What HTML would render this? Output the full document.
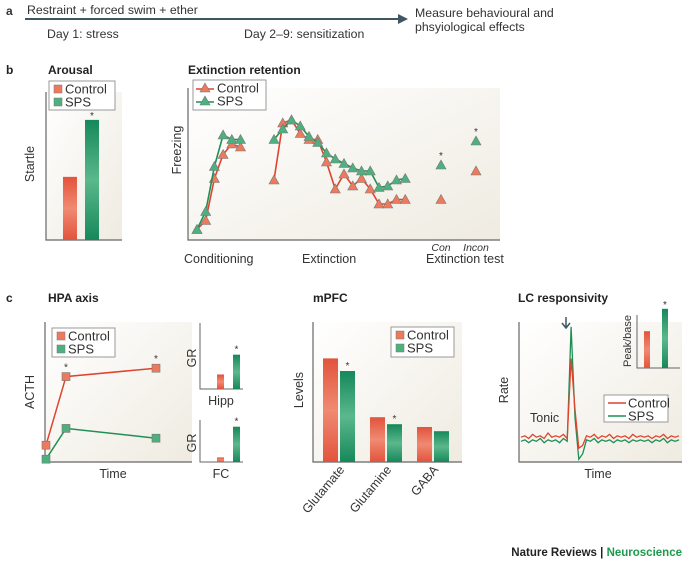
<!DOCTYPE html>
<html><head><meta charset="utf-8">
<style>
html,body{margin:0;padding:0;background:#fff;}
svg{display:block;font-family:"Liberation Sans",sans-serif;}
</style></head>
<body>
<svg id="fig" width="685" height="567" viewBox="0 0 685 567" xmlns="http://www.w3.org/2000/svg">
<defs>
<linearGradient id="bg" x1="0" y1="0" x2="1" y2="1"><stop offset="0" stop-color="#ffffff"/><stop offset="1" stop-color="#efebe1"/></linearGradient>
<linearGradient id="gr" x1="0" y1="0" x2="0" y2="1"><stop offset="0" stop-color="#e2533c"/><stop offset="0.5" stop-color="#f08a72"/><stop offset="1" stop-color="#e2533c"/></linearGradient>
<linearGradient id="gg" x1="0" y1="0" x2="0" y2="1"><stop offset="0" stop-color="#16885a"/><stop offset="0.5" stop-color="#5ab88c"/><stop offset="1" stop-color="#16885a"/></linearGradient>
</defs>

<g font-size="12.3" fill="#333">
<text x="6" y="15" font-weight="bold" font-size="12">a</text>
<text x="27" y="14">Restraint + forced swim + ether</text>
<line x1="25" y1="19" x2="400" y2="19" stroke="#3f5663" stroke-width="2"/>
<polygon points="398,14 408,19 398,24" fill="#3f5663"/>
<text x="47" y="38">Day 1: stress</text>
<text x="244" y="38">Day 2–9: sensitization</text>
<text x="415" y="17">Measure behavioural and</text>
<text x="415" y="31">phsyiological effects</text>
</g>

<text x="6" y="74" font-weight="bold" font-size="12" fill="#222">b</text>
<text x="6" y="302" font-weight="bold" font-size="12" fill="#222">c</text>

<g id="arousal"></g>
<g id="ext"></g>
<g id="hpa"></g>
<g id="mpfc"></g>
<g id="lc"></g>

<text x="682" y="556" text-anchor="end" font-size="11.5" font-weight="bold" fill="#222">Nature Reviews | <tspan fill="#1e9a4e">Neuroscience</tspan></text>
</svg>
<script>
// ---------- data ----------
const arousalGroups = ["Control","SPS"];
const arousalValues = [41, 78];

const condControl = [7, 13, 41, 57, 64, 62];
const condSPS = [7, 19, 49, 70, 67, 67];
const extControl = [40, 78, 80, 71, 67, 67, 52, 34, 44, 36, 41, 34, 24, 24, 27, 27];
const extSPS = [67, 74, 80, 76, 69, 65, 58, 54, 51, 48, 46, 46, 35, 36, 40, 41];
const testLabels = ["Con","Incon"];
const testControl = [27, 46];
const testSPS = [50, 66];

const hpaTimes = [0, 1, 5.5];
const hpaControl = [12, 61, 67];
const hpaSPS = [2, 24, 17];
const hippGR = [22, 52];
const fcGR = [11, 84];

const mpfcCats = ["Glutamate","Glutamine","GABA"];
const mpfcControl = [74, 32, 25];
const mpfcSPS = [65, 27, 22];

const lcPeak = [46, 74];
const lcControl = [18,19,17,20,18,19,17,21,18,19,18,20,17,75,38,10,12,19,18,20,17,19,18,20,17,19,18,19,17,20,18,19,18,19,17,19,18,20,17,19,18,19];
const lcSPS = [15,16,14,16,15,17,14,16,15,16,14,17,15,98,32,2,6,16,15,17,14,16,15,16,14,16,15,16,14,16,15,16,15,16,14,16,15,17,14,16,15,16];

// ---------- helpers ----------
const NS = "http://www.w3.org/2000/svg";
function mk(parent, tag, attrs, txt){
  const e = document.createElementNS(NS, tag);
  for (const k in attrs) e.setAttribute(k, attrs[k]);
  if (txt !== undefined) e.textContent = txt;
  parent.appendChild(e);
  return e;
}
const RED = "#e0442e", GREEN = "#1e8f55", MRED = "#ee7a5e", MGREEN = "#4fb07f";
function axes(g, x0, yTop, yBot, xRight){
  const bgr = mk(g, "rect", {x:x0, y:yTop, width:xRight-x0, height:yBot-yTop, fill:"url(#bg)"});
  
  
  const ax = mk(g, "path", {d:`M${x0},${yTop} L${x0},${yBot} L${xRight},${yBot}`, fill:"none", stroke:"#666", "stroke-width":1.2});
  
  
}
function star(g, x, y){
  const s = mk(g, "text", {x:x, y:y, "text-anchor":"middle", "font-size":10, fill:"#333"}, "*");
  
  
}
function tri(g, x, y, fill){
  return mk(g, "polygon", {points:`${x},${y-5} ${x+5},${y+4} ${x-5},${y+4}`, fill:fill, stroke:"#777", "stroke-width":0.6});
}
function rotText(g, x, y, txt, size, name){
  const t = mk(g, "text", {x:x, y:y, transform:`rotate(-90 ${x} ${y})`, "text-anchor":"middle", "font-size":size||12, fill:"#333"}, txt);
  
  
}
function label(g, x, y, txt, opts, name){
  const a = Object.assign({x:x, y:y, "font-size":12.5, fill:"#333"}, opts||{});
  const t = mk(g, "text", a, txt);
  
  
  return t;
}
function legendBox(g, x, y, w, h, kind, names, colors, mcolors){
  const b = mk(g, "rect", {x:x, y:y, width:w, height:h, fill:"#fff", stroke:"#999", "stroke-width":1});
  
  
  names.forEach((n, i) => {
    const cy = y + 8 + i*13;
    if (kind === "sq"){
      const r = mk(g, "rect", {x:x+5, y:cy-4, width:8, height:8, fill:mcolors[i], stroke:"#777","stroke-width":0.5});
      
      
    } else if (kind === "tri"){
      const l = mk(g, "line", {x1:x+3, y1:cy+1, x2:x+21, y2:cy+1, stroke:colors[i], "stroke-width":1.5});
      
      
      const t = tri(g, x+12, cy, mcolors[i]);
      
      
    } else {
      const l = mk(g, "line", {x1:x+4, y1:cy, x2:x+22, y2:cy, stroke:colors[i], "stroke-width":1.5});
      
      
    }
    const tx = kind === "sq" ? x+16 : x+24;
    label(g, tx, cy+4.5, n, {"font-size":13}, 'legend-entry-' + n.toLowerCase());
  });
}

// ---------- Arousal ----------
(function(){
  const g = document.getElementById("arousal");
  label(g, 48, 74, "Arousal", {"font-weight":"bold","font-size":12,fill:"#222"}, 'arousal-title');
  axes(g, 46, 92, 240, 122);
  const y = v => 240 - v*1.54;
  const xs = [63, 85];
  arousalValues.forEach((v, i) => {
    const r = mk(g, "rect", {x:xs[i], y:y(v), width:14, height:240-y(v), fill:i?"url(#gg)":"url(#gr)"});
    
    
  });
  star(g, 92, y(arousalValues[1]) - 1);
  legendBox(g, 49, 81, 66, 29, "sq", arousalGroups, [RED,GREEN], [MRED,MGREEN]);
  rotText(g, 34, 164, "Startle", 12.5, 'startle-axis-title');
})();

// ---------- Extinction ----------
(function(){
  const g = document.getElementById("ext");
  label(g, 188, 74, "Extinction retention", {"font-weight":"bold","font-size":12,fill:"#222"}, 'extinction-title');
  axes(g, 188, 88, 240, 500);
  const y = v => 240 - v*1.5;
  const xc = i => 197 + i*8.7;
  const xe = i => 274 + i*8.75;
  const xt = [441, 476];
  function series(vals, xf, color, mcolor, name){
    const d = vals.map((v,i) => (i?"L":"M") + xf(i) + "," + y(v)).join(" ");
    const p = mk(g, "path", {d:d, fill:"none", stroke:color, "stroke-width":1.6});
    
    
    vals.forEach((v,i) => {
      const t = tri(g, xf(i), y(v), mcolor);
      
      
    });
  }
  series(condControl, xc, RED, MRED, 'conditioning-control');
  series(condSPS, xc, GREEN, MGREEN, 'conditioning-sps');
  series(extControl, xe, RED, MRED, 'extinction-control');
  series(extSPS, xe, GREEN, MGREEN, 'extinction-sps');
  testLabels.forEach((l, i) => {
    const a = tri(g, xt[i], y(testControl[i]), MRED);
    
    
    const b = tri(g, xt[i], y(testSPS[i]), MGREEN);
    
    
    star(g, xt[i], y(testSPS[i]) - 6);
    label(g, xt[i], 251, l, {"font-size":10.5,"font-style":"italic","text-anchor":"middle"}, 'test-label-' + l.toLowerCase());
  });
  legendBox(g, 193, 80, 73, 30, "tri", ["Control","SPS"], [RED,GREEN], [MRED,MGREEN]);
  label(g, 184, 263, "Conditioning", {}, 'conditioning-label');
  label(g, 302, 263, "Extinction", {}, 'extinction-label');
  label(g, 426, 263, "Extinction test", {}, 'extinction-test-label');
  rotText(g, 181, 150, "Freezing", 12.5, 'freezing-axis-title');
})();

// ---------- HPA ----------
(function(){
  const g = document.getElementById("hpa");
  label(g, 48, 302, "HPA axis", {"font-weight":"bold","font-size":12,fill:"#222"}, 'hpa-title');
  axes(g, 45, 322, 462, 192);
  const y = v => 462 - v*1.4;
  const x = t => 46 + t*20;
  function series(vals, color, mcolor, name){
    const d = vals.map((v,i) => (i?"L":"M") + x(hpaTimes[i]) + "," + y(v)).join(" ");
    const p = mk(g, "path", {d:d, fill:"none", stroke:color, "stroke-width":1.5});
    
    
    vals.forEach((v,i) => {
      const r = mk(g, "rect", {x:x(hpaTimes[i])-4, y:y(v)-4, width:8, height:8, fill:mcolor, stroke:"#777","stroke-width":0.6});
      
      
    });
  }
  series(hpaControl, RED, MRED, 'acth-control');
  series(hpaSPS, GREEN, MGREEN, 'acth-sps');
  star(g, x(hpaTimes[1]), y(hpaControl[1]) - 6);
  star(g, x(hpaTimes[2]), y(hpaControl[2]) - 6);
  legendBox(g, 52, 328, 63, 29, "sq", ["Control","SPS"], [RED,GREEN], [MRED,MGREEN]);
  label(g, 113, 478, "Time", {"text-anchor":"middle"}, 'hpa-x-axis-title');
  rotText(g, 34, 392, "ACTH", 12.5, 'acth-axis-title');
  function inset(vals, y0, y1, name, lab, labY){
    const ax = mk(g, "path", {d:`M200,${y0} L200,${y1} L243,${y1}`, fill:"none", stroke:"#666","stroke-width":1});
    
    
    const h = y1 - y0;
    const yy = v => y1 - v/100*h;
    [217, 233].forEach((bx, i) => {
      const r = mk(g, "rect", {x:bx, y:yy(vals[i]), width:7, height:y1-yy(vals[i]), fill:i?"url(#gg)":"url(#gr)"});
      
      
    });
    star(g, 236.5, yy(vals[1]) - 2);
    rotText(g, 196, (y0+y1)/2 + 2, "GR", 12.5, name + '-gr-title');
    label(g, 221, labY, lab, {"text-anchor":"middle"}, name + '-label');
  }
  inset(hippGR, 323, 389, 'hipp-inset', 'Hipp', 405);
  inset(fcGR, 420, 462, 'fc-inset', 'FC', 478);
})();

// ---------- mPFC ----------
(function(){
  const g = document.getElementById("mpfc");
  label(g, 313, 302, "mPFC", {"font-weight":"bold","font-size":12,fill:"#222"}, 'mpfc-title');
  axes(g, 313, 322, 462, 462);
  const y = v => 462 - v*1.4;
  const xs = [323, 370, 417];
  mpfcCats.forEach((c, i) => {
    const a = mk(g, "rect", {x:xs[i], y:y(mpfcControl[i]), width:15, height:462-y(mpfcControl[i]), fill:"url(#gr)"});
    
    
    const b = mk(g, "rect", {x:xs[i]+17, y:y(mpfcSPS[i]), width:15, height:462-y(mpfcSPS[i]), fill:"url(#gg)"});
    
    
    if (i < 2) star(g, xs[i]+24.5, y(mpfcSPS[i]) - 2);
    const lx = xs[i] + 22, ly = 470;
    const t = mk(g, "text", {x:lx, y:ly, transform:`rotate(-50 ${lx} ${ly})`, "text-anchor":"end", "font-size":12.5, fill:"#333"}, c);
    
    
  });
  legendBox(g, 391, 327, 63, 30, "sq", ["Control","SPS"], [RED,GREEN], [MRED,MGREEN]);
  rotText(g, 303, 390, "Levels", 12.5, 'levels-axis-title');
})();

// ---------- LC ----------
(function(){
  const g = document.getElementById("lc");
  label(g, 518, 302, "LC responsivity", {"font-weight":"bold","font-size":12,fill:"#222"}, 'lc-title');
  axes(g, 519, 322, 462, 682);
  const y = v => 462 - v*1.38;
  const x = i => 521 + i*(158/(lcControl.length-1));
  function trace(vals, color, name){
    const d = vals.map((v,i) => (i?"L":"M") + x(i).toFixed(1) + "," + y(v).toFixed(1)).join(" ");
    const p = mk(g, "path", {d:d, fill:"none", stroke:color, "stroke-width":1.3});
    
    
  }
  trace(lcSPS, GREEN, 'lc-sps-trace');
  trace(lcControl, RED, 'lc-control-trace');
  const ar = mk(g, "path", {d:"M566,317 L566,327 M562,323 L566,328 L570,323", fill:"none", stroke:"#3f5663","stroke-width":1.5});
  
  
  const ax = mk(g, "path", {d:"M637,315 L637,368 L680,368", fill:"none", stroke:"#666","stroke-width":1});
  
  
  const yy = v => 368 - v*0.8;
  [644, 662].forEach((bx, i) => {
    const r = mk(g, "rect", {x:bx, y:yy(lcPeak[i]), width:6, height:368-yy(lcPeak[i]), fill:i?"url(#gg)":"url(#gr)"});
    
    
  });
  star(g, 665, yy(lcPeak[1]) - 1);
  rotText(g, 631, 341, "Peak/base", 11, 'peak-base-title');
  legendBox(g, 604, 395, 64, 27, "line", ["Control","SPS"], [RED,GREEN], [RED,GREEN]);
  label(g, 530, 422, "Tonic", {}, 'tonic-label');
  label(g, 598, 478, "Time", {"text-anchor":"middle"}, 'lc-x-axis-title');
  rotText(g, 508, 390, "Rate", 12.5, 'rate-axis-title');
})();
</script>
</body></html>
